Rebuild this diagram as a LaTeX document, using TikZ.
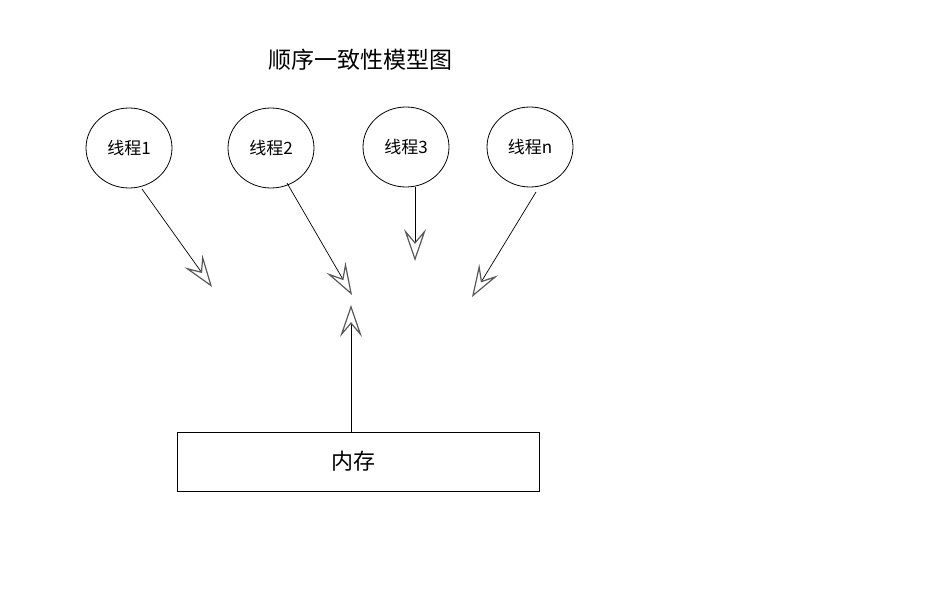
\documentclass[tikz,border=0pt]{standalone}
\usepackage{fontspec}
\setmainfont{Noto Sans CJK SC}
\usetikzlibrary{arrows.meta,shapes.geometric}
\begin{document}
\begin{tikzpicture}[x=1pt,y=-1pt,
  thread/.style={draw, ellipse, minimum width=86pt, minimum height=80pt, inner sep=0pt, line width=0.8pt, font=\fontsize{17}{17}\selectfont},
  link/.style={line width=0.7pt, -{Stealth[open, length=32pt, width=22pt, inset=13pt, line width=1.2pt, color=black!65, fill=white]}}]
\useasboundingbox (0,0) rectangle (936,599);
\node[font=\fontsize{23}{23}\selectfont] (title) at (360,60) {顺序一致性模型图};
\node[thread] (t1) at (129,148) {线程1};
\node[thread] (t2) at (271,148) {线程2};
\node[thread] (t3) at (406,147) {线程3};
\node[thread] (tn) at (530,147) {线程n};
\node[draw, line width=0.8pt, minimum width=362pt, minimum height=59pt, inner sep=0pt, font=\fontsize{22}{22}\selectfont] (mem) at (358,461.5) {\makebox[48pt][r]{内存}\kern14pt};
\coordinate (e1) at (212,287);
\coordinate (e2) at (352,295);
\coordinate (e3) at (415,261);
\coordinate (en) at (472,297);
\coordinate (em) at (351,305);
\coordinate (s1) at (142,189);
\coordinate (s2) at (287,183);
\coordinate (s3) at (415,187);
\coordinate (sn) at (536,192);
\draw[link] (s1) -- (e1);
\draw[link] (s2) -- (e2);
\draw[link] (s3) -- (e3);
\draw[link] (sn) -- (en);
\draw[link] (mem.north -| em) -- (em);
\end{tikzpicture}
\end{document}
